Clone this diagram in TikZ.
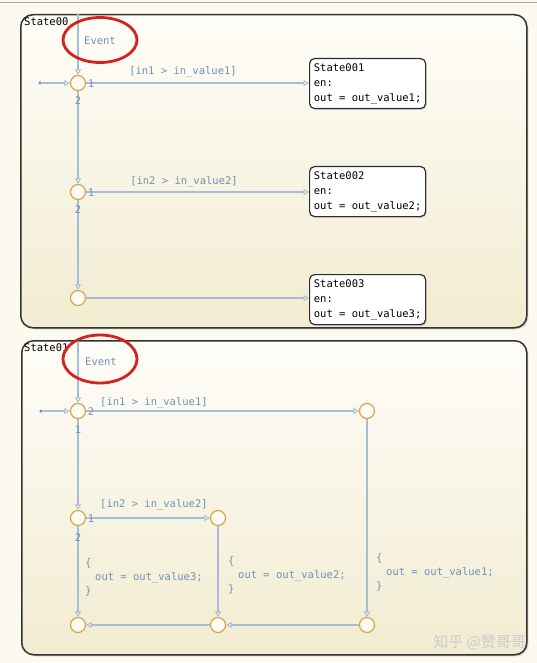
\documentclass[tikz,border=0pt]{standalone}
\usepackage{fontspec}
\setmonofont{DejaVu Sans Mono}
\newfontfamily\cjkfont{Noto Sans CJK SC}
\usetikzlibrary{arrows.meta,shapes.geometric,shadows}

\newcommand\chartfont{\ttfamily\fontsize{10.5}{15}\selectfont}
\newcommand\actionfont{\ttfamily\fontsize{10.5}{14}\selectfont}

\begin{document}
\begin{tikzpicture}[x=1pt, y=-1pt,
    chart/.style={draw=chartBorder, line width=1.5pt, rounded corners=12pt,
        top color=chartTop, bottom color=chartBottom, anchor=north west,
        drop shadow={shadow xshift=1.5pt, shadow yshift=-1.5pt, opacity=0.35}},
    chartname/.style={font=\chartfont, text=black, inner sep=0pt, anchor=north west},
    state/.style={draw=stateBorder, line width=1.2pt, rounded corners=5pt, fill=white,
        anchor=north west, align=left, font=\chartfont, inner xsep=3pt, inner ysep=2pt,
        minimum width=116pt, minimum height=50pt,
        drop shadow={shadow xshift=1.2pt, shadow yshift=-1.2pt, opacity=0.3}},
    junction/.style={circle, draw=junctionColour, fill=junctionFill, line width=1.2pt,
        minimum size=15pt, inner sep=0pt},
    initdot/.style={circle, fill=labelColour, minimum size=3.5pt, inner sep=0pt},
    wire/.style={draw=wireColour, line width=1.1pt,
        -{Triangle[open, length=5.5pt, width=6pt, line width=0.9pt]}},
    wlabel/.style={font=\chartfont, text=labelColour, inner sep=0pt},
    action/.style={font=\actionfont, text=labelColour, inner sep=0pt, align=left, anchor=west},
    ring/.style={ellipse, draw=ringColour, line width=2.8pt, minimum width=74pt}]

    \definecolor{bgColour}{HTML}{FCF9EE}
    \definecolor{chartBorder}{HTML}{333333}
    \definecolor{chartTop}{HTML}{FEFDF8}
    \definecolor{chartBottom}{HTML}{F2ECD1}
    \definecolor{stateBorder}{HTML}{2E2E2E}
    \definecolor{junctionColour}{HTML}{D9A54A}
    \definecolor{junctionFill}{HTML}{FDFBF3}
    \definecolor{wireColour}{HTML}{A5BDD6}
    \definecolor{labelColour}{HTML}{6E92B8}
    \definecolor{ringColour}{HTML}{D7211C}

    % Background and frame
    \fill[bgColour] (0,0) rectangle (537,663);
    \useasboundingbox (0,0) rectangle (537,663);
    \draw[gray!70, line width=1pt] (0,3) -- (537,3);

    % Chart State00
    \node[chart, minimum width=506pt, minimum height=313pt] (state00) at (20,14) {};
    \node[chartname] (name00) at (24,18) {State00};

    \node[initdot] (init0) at (40,83) {};
    \node[junction] (jA) at (78,83) {};
    \node[junction] (jB) at (78,192) {};
    \node[junction] (jC) at (78,298) {};

    \node[state] (s001) at (309,58) {State001\\en:\\out = out\_value1;};
    \node[state] (s002) at (309,166) {State002\\en:\\out = out\_value2;};
    \node[state] (s003) at (309,274) {State003\\en:\\out = out\_value3;};

    \draw[wire] (state00.north -| jA) -- (jA);
    \draw[wire] (init0) -- (jA);
    \draw[wire] (jA) -- (jB);
    \draw[wire] (jB) -- (jC);
    \draw[wire] (jA) -- (jA -| s001.west);
    \draw[wire] (jB) -- (jB -| s002.west);
    \draw[wire] (jC) -- (jC -| s003.west);

    \node[wlabel, anchor=west] (ev0) at (84,41) {Event};
    \node[wlabel] (jA1) at (91,84) {1};
    \node[wlabel] (jA2) at (78,101) {2};
    \node[wlabel] (jB1) at (91,193) {1};
    \node[wlabel] (jB2) at (78,210) {2};
    \node[wlabel] (g1) at (183,72) {[in1 > in\_value1]};
    \node[wlabel] (g2) at (184,182) {[in2 > in\_value2]};

    \node[ring, minimum height=45pt] (ring0) at (100,40) {};

    % Chart State01
    \node[chart, minimum width=505pt, minimum height=314pt] (state01) at (21,340) {};
    \node[chartname] (name01) at (24,344) {State01};

    \node[initdot] (init1) at (41,411) {};
    \node[junction] (J1) at (78,411) {};
    \node[junction] (J2) at (78,518) {};
    \node[junction] (J3) at (78,625) {};
    \node[junction] (J4) at (218,518) {};
    \node[junction] (J5) at (218,625) {};
    \node[junction] (J6) at (367,411) {};
    \node[junction] (J7) at (367,625) {};

    \draw[wire] (state01.north -| J1) -- (J1);
    \draw[wire] (init1) -- (J1);
    \draw[wire] (J1) -- (J6);
    \draw[wire] (J1) -- (J2);
    \draw[wire] (J2) -- (J4);
    \draw[wire] (J2) -- (J3);
    \draw[wire] (J4) -- (J5);
    \draw[wire] (J6) -- (J7);
    \draw[wire] (J7) -- (J5);
    \draw[wire] (J5) -- (J3);

    \node[wlabel, anchor=west] (ev1) at (85,362) {Event};
    \node[wlabel] (J1a) at (91,412) {2};
    \node[wlabel] (J1b) at (78,430) {1};
    \node[wlabel] (J2a) at (91,519) {1};
    \node[wlabel] (J2b) at (78,538) {2};
    \node[wlabel, anchor=west] (g3) at (100,403) {[in1 > in\_value1]};
    \node[wlabel, anchor=west] (g4) at (100,505) {[in2 > in\_value2]};

    \node[action] (act3) at (85,577) {\{\\\hspace*{10pt}out = out\_value3;\\\}};
    \node[action] (act2) at (228,575) {\{\\\hspace*{10pt}out = out\_value2;\\\}};
    \node[action] (act1) at (376,572) {\{\\\hspace*{10pt}out = out\_value1;\\\}};

    \node[ring, minimum height=48pt] (ring1) at (100,359) {};

    % Watermark
    \node[text=gray!40, font=\cjkfont\fontsize{15}{15}\selectfont, anchor=east, inner sep=0pt] (mark) at (526,642) {知乎 @赞哥哥};

\end{tikzpicture}
\end{document}
